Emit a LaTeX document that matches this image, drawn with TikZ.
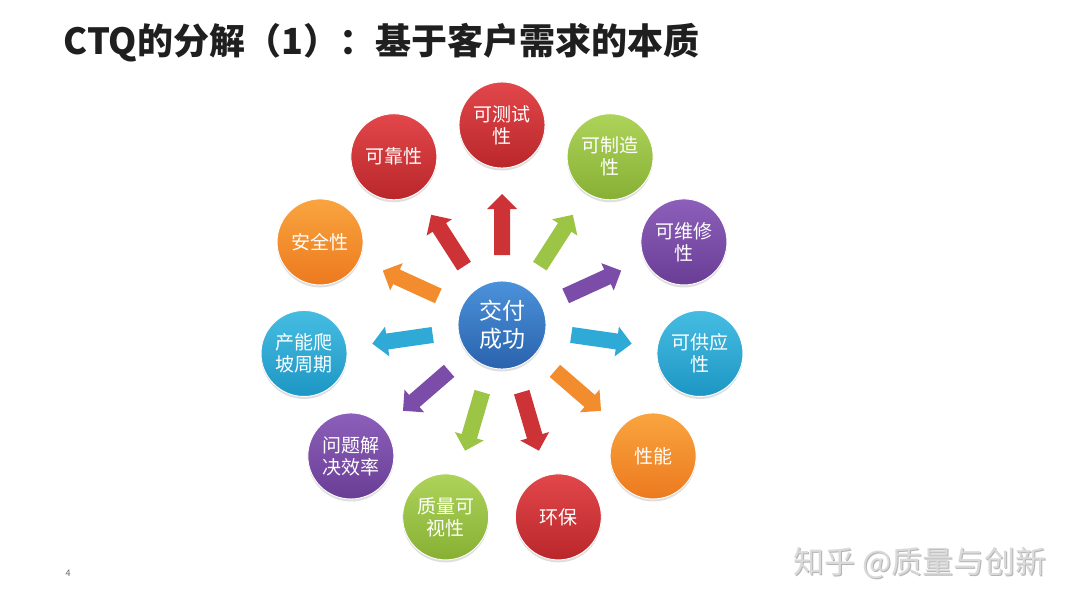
\documentclass[tikz,border=0pt]{standalone}
\usepackage{fontspec}
\setmainfont{Noto Sans CJK SC}
\usetikzlibrary{calc}
\definecolor{redT}{HTML}{E2474A}\definecolor{redB}{HTML}{B9272B}\definecolor{redM}{HTML}{CC3236}
\definecolor{grnT}{HTML}{AED35A}\definecolor{grnB}{HTML}{86B034}\definecolor{grnM}{HTML}{9CC445}
\definecolor{purT}{HTML}{8C5FBA}\definecolor{purB}{HTML}{6A3D95}\definecolor{purM}{HTML}{7B4DA8}
\definecolor{cyaT}{HTML}{45BDE2}\definecolor{cyaB}{HTML}{1E96C4}\definecolor{cyaM}{HTML}{2FA9D6}
\definecolor{orgT}{HTML}{F9A440}\definecolor{orgB}{HTML}{EC7A1E}\definecolor{orgM}{HTML}{F28C2C}
\definecolor{bluT}{HTML}{4B92DA}\definecolor{bluB}{HTML}{2A62AE}
\definecolor{wmark}{HTML}{DADADA}\definecolor{wshade}{HTML}{B4B4B4}
\newcommand\blockarrowdraw[3]{%
 \fill[#1] let \p1=($(#3)-(#2)$), \n1={atan2(\y1,\x1)} in
  ($(#2)+(\n1:70)+(\n1+90:8)$) -- ($(#2)+(\n1:116)+(\n1+90:8)$) --
  ($(#2)+(\n1:116)+(\n1+90:15)$) -- ($(#2)+(\n1:131)$) --
  ($(#2)+(\n1:116)+(\n1-90:15)$) -- ($(#2)+(\n1:116)+(\n1-90:8)$) --
  ($(#2)+(\n1:70)+(\n1-90:8)$) -- cycle;}
\begin{document}
\begin{tikzpicture}[x=1pt,y=1pt,
  bub/.style={circle, minimum size=86pt, inner sep=0pt, text=white,
    font=\fontsize{19}{22}\selectfont, align=center,
    preaction={fill=black, fill opacity=0.13, transform canvas={yshift=-2.5pt}},
    postaction={draw=white, line width=0.9pt}},
  cred/.style={bub, top color=redT, bottom color=redB},
  cgrn/.style={bub, top color=grnT, bottom color=grnB},
  cpur/.style={bub, top color=purT, bottom color=purB},
  ccya/.style={bub, top color=cyaT, bottom color=cyaB},
  corg/.style={bub, top color=orgT, bottom color=orgB}]
\useasboundingbox (0,0) rectangle (1080,-608);
\fill[white] (0,0) rectangle (1080,-608);
\node[anchor=west, font=\fontsize{36}{42}\selectfont\bfseries, text=black!88] (title) at (60,-43) {CTQ的分解（1）：基于客户需求的本质};
\coordinate (c) at (502,-325);
\node[bub, minimum size=88pt, top color=bluT, bottom color=bluB, font=\fontsize{23}{28}\selectfont] (c0) at (c) {交付\\成功};
\node[cred] (n1) at ($(c)+(90:200)$) {可测试\\性};
\node[cgrn] (n2) at ($(c)+(90-32.727:200)$) {可制造\\性};
\node[cpur] (n3) at ($(c)+(90-65.455:200)$) {可维修\\性};
\node[ccya] (n4) at ($(c)+(90-98.182:200)$) {可供应\\性};
\node[corg] (n5) at ($(c)+(90-130.909:200)$) {性能};
\node[cred] (n6) at ($(c)+(90-163.636:200)$) {环保};
\node[cgrn] (n7) at ($(c)+(90-196.364:200)$) {质量可\\视性};
\node[cpur] (n8) at ($(c)+(90-229.091:200)$) {问题解\\决效率};
\node[ccya] (n9) at ($(c)+(90-261.818:200)$) {产能爬\\坡周期};
\node[corg] (n10) at ($(c)+(90-294.545:200)$) {安全性};
\node[cred] (n11) at ($(c)+(90-327.273:200)$) {可靠性};
\blockarrowdraw{redM}{c0}{n1}
\blockarrowdraw{grnM}{c0}{n2}
\blockarrowdraw{purM}{c0}{n3}
\blockarrowdraw{cyaM}{c0}{n4}
\blockarrowdraw{orgM}{c0}{n5}
\blockarrowdraw{redM}{c0}{n6}
\blockarrowdraw{grnM}{c0}{n7}
\blockarrowdraw{purM}{c0}{n8}
\blockarrowdraw{cyaM}{c0}{n9}
\blockarrowdraw{orgM}{c0}{n10}
\blockarrowdraw{redM}{c0}{n11}
\node[font=\fontsize{9}{10}\selectfont, text=black!60] (pg) at (68,-573) {4};
\node[font=\fontsize{31}{34}\selectfont, text=wshade] at (921.2,-564.2) {知乎 @质量与创新};
\node[font=\fontsize{31}{34}\selectfont, text=wmark] (wm) at (920,-563) {知乎 @质量与创新};
\end{tikzpicture}
\end{document}
